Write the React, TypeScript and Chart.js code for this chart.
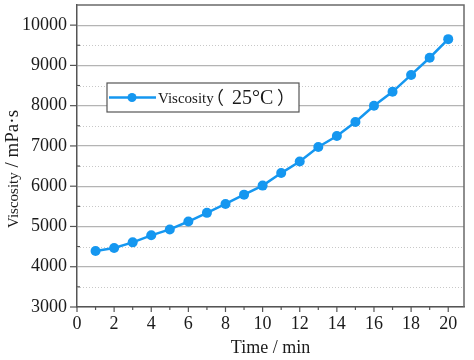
import React, { useEffect, useRef } from 'react';
import { Chart, registerables } from 'chart.js';

Chart.register(...registerables);

const timeMin = [1, 2, 3, 4, 5, 6, 7, 8, 9, 10, 11, 12, 13, 14, 15, 16, 17, 18, 19, 20];
const viscosity = [4390, 4467, 4605, 4780, 4926, 5123, 5338, 5560, 5790, 6015, 6326, 6615, 6975, 7247, 7593, 7998, 8344, 8763, 9190, 9652];
const xMajorTicks = [0, 2, 4, 6, 8, 10, 12, 14, 16, 18, 20];
const xMinorTicks = [1, 3, 5, 7, 9, 11, 13, 15, 17, 19];
const yMajorTicks = [3000, 4000, 5000, 6000, 7000, 8000, 9000, 10000];
const yMinorTicks = [3500, 4500, 5500, 6500, 7500, 8500, 9500];
const seriesName = 'Viscosity';
const seriesNameOpen = '（';
const seriesNameTemp = '25°C';
const seriesNameClose = '）';
const xTitle = 'Time / min';
const yTitleA = 'Viscosity';
const yTitleB = ' / mPa·s';

const SERIF = "'Liberation Serif', 'Times New Roman', serif";
const CJK = "'Liberation Serif', 'Noto Sans CJK SC', serif";
const BLUE = '#1597F0';
const AXIS = '#555555';

const decor = {
  id: 'decor',
  beforeDatasetsDraw(chart: any) {
    const { ctx, chartArea: a, scales } = chart;
    const y = scales.y;
    ctx.save();
    ctx.strokeStyle = '#c8c8c8';
    ctx.lineWidth = 1;
    ctx.setLineDash([1, 2]);
    yMinorTicks.forEach((v) => {
      const py = Math.round(y.getPixelForValue(v)) + 0.5;
      ctx.beginPath();
      ctx.moveTo(a.left, py);
      ctx.lineTo(a.right, py);
      ctx.stroke();
    });
    ctx.restore();
  },
  afterDraw(chart: any) {
    const { ctx, chartArea: a, scales } = chart;
    const x = scales.x;
    const y = scales.y;
    ctx.save();
    ctx.strokeStyle = '#6a6a6a';
    ctx.lineWidth = 1.5;
    ctx.beginPath();
    ctx.moveTo(a.left, a.top);
    ctx.lineTo(a.right, a.top);
    ctx.lineTo(a.right, a.bottom);
    ctx.stroke();
    ctx.strokeStyle = AXIS;
    ctx.lineWidth = 1.2;
    const seg = (x1: number, y1: number, x2: number, y2: number) => {
      ctx.beginPath();
      ctx.moveTo(x1, y1);
      ctx.lineTo(x2, y2);
      ctx.stroke();
    };
    xMajorTicks.forEach((v) => {
      const px = x.getPixelForValue(v);
      seg(px, a.bottom, px, a.bottom + 5);
    });
    xMinorTicks.forEach((v) => {
      const px = x.getPixelForValue(v);
      seg(px, a.bottom, px, a.bottom + 3);
    });
    yMajorTicks.forEach((v) => {
      const py = y.getPixelForValue(v);
      seg(a.left - 7, py, a.left, py);
    });
    yMinorTicks.forEach((v) => {
      const py = y.getPixelForValue(v);
      seg(a.left, py, a.left + 3, py);
    });

    // legend box
    const bx = 107, by = 83, bw = 192, bh = 29;
    ctx.fillStyle = '#ffffff';
    ctx.fillRect(bx, by, bw, bh);
    ctx.strokeStyle = '#555555';
    ctx.lineWidth = 1.2;
    ctx.strokeRect(bx, by, bw, bh);
    const ly = by + bh / 2;
    ctx.strokeStyle = BLUE;
    ctx.lineWidth = 2.5;
    seg(bx + 2, ly, bx + 49, ly);
    ctx.fillStyle = BLUE;
    ctx.beginPath();
    ctx.arc(bx + 25, ly, 4.5, 0, Math.PI * 2);
    ctx.fill();
    ctx.fillStyle = '#1a1a1a';
    ctx.textBaseline = 'alphabetic';
    ctx.textAlign = 'left';
    const base = by + 20;
    ctx.font = `15px ${SERIF}`;
    ctx.fillText(seriesName, bx + 51, base);
    ctx.font = `18px ${CJK}`;
    ctx.fillText(seriesNameOpen, bx + 99, base + 1);
    ctx.font = `20px ${SERIF}`;
    ctx.fillText(seriesNameTemp, bx + 125, base + 1);
    ctx.font = `18px ${CJK}`;
    ctx.fillText(seriesNameClose, bx + 170, base + 1);

    // y title
    ctx.save();
    ctx.translate(18, 169);
    ctx.rotate(-Math.PI / 2);
    ctx.font = `15px ${SERIF}`;
    const wA = ctx.measureText(yTitleA).width;
    ctx.font = `19px ${SERIF}`;
    const wB = ctx.measureText(yTitleB).width;
    const start = -(wA + wB) / 2;
    ctx.fillStyle = '#1a1a1a';
    ctx.font = `15px ${SERIF}`;
    ctx.fillText(yTitleA, start, 0);
    ctx.font = `19px ${SERIF}`;
    ctx.fillText(yTitleB, start + wA, 0);
    ctx.restore();

    ctx.restore();
  },
};

export default function App() {
  const ref = useRef<HTMLCanvasElement | null>(null);
  useEffect(() => {
    if (!ref.current) return;
    const chart = new Chart(ref.current, {
      type: 'line',
      data: {
        datasets: [
          {
            label: seriesName,
            data: timeMin.map((t, i) => ({ x: t, y: viscosity[i] })),
            borderColor: BLUE,
            backgroundColor: BLUE,
            borderWidth: 2.5,
            pointRadius: 5,
            pointBorderWidth: 0,
            pointBackgroundColor: BLUE,
            tension: 0,
            clip: false as any,
          },
        ],
      },
      options: {
        animation: false,
        responsive: false,
        layout: { padding: { top: 3, right: 10, left: 0, bottom: 0 } },
        plugins: { legend: { display: false }, tooltip: { enabled: false } },
        scales: {
          x: {
            type: 'linear',
            min: 0,
            max: 20.85,
            afterBuildTicks: (s: any) => {
              s.ticks = xMajorTicks.map((v) => ({ value: v }));
            },
            afterFit: (s: any) => {
              s.height = 53;
              s.paddingLeft = 0;
              s.paddingRight = 0;
            },
            ticks: {
              font: { family: SERIF, size: 18 },
              color: '#1a1a1a',
              padding: 6,
              maxRotation: 0,
              autoSkip: false,
              callback: (v: any) => String(v),
            },
            grid: { display: false, drawTicks: false },
            border: { display: true, color: AXIS, width: 1.5 },
            title: {
              display: true,
              text: xTitle,
              font: { family: SERIF, size: 18 },
              color: '#1a1a1a',
              padding: { top: 0, bottom: 1 },
            },
          },
          y: {
            type: 'linear',
            min: 3000,
            max: 10500,
            afterBuildTicks: (s: any) => {
              s.ticks = yMajorTicks.map((v) => ({ value: v }));
            },
            afterFit: (s: any) => {
              s.width = 77;
              s.paddingTop = 0;
              s.paddingBottom = 0;
            },
            ticks: {
              font: { family: SERIF, size: 18 },
              color: '#1a1a1a',
              padding: 10,
              callback: (v: any) => String(v),
            },
            grid: { color: '#b4b4b4', lineWidth: 1.2, drawTicks: false },
            border: { display: true, color: AXIS, width: 1.5 },
          },
        },
      },
      plugins: [decor],
    });
    return () => chart.destroy();
  }, []);
  return (
    <div style={{ position: 'absolute', left: 0, top: 0, width: 474, height: 360 }}>
      <canvas ref={ref} width={474} height={360} style={{ display: 'block' }} />
    </div>
  );
}
